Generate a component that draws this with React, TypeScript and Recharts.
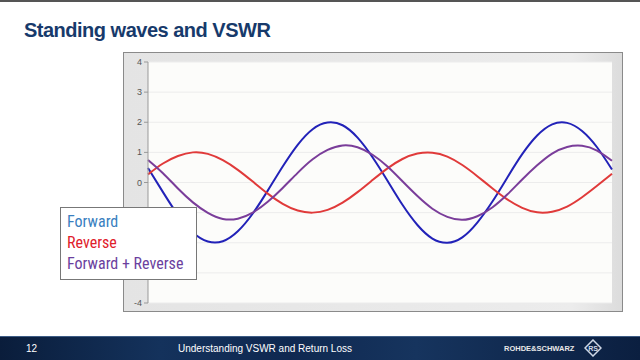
import React from "react";
import { LineChart, Line, XAxis, YAxis, CartesianGrid } from "recharts";

const positions = [0,1,2,3,4,5,6,7,8,9,10,11,12,13,14,15,16,17,18,19,20,21,22,23,24,25,26,27,28,29,30,31];
const forward = [0.48,-0.32,-1.08,-1.66,-1.96,-1.95,-1.62,-1.03,-0.27,0.53,1.25,1.77,1.99,1.90,1.49,0.84,0.06,-0.74,-1.41,-1.86,-2.0,-1.82,-1.33,-0.64,0.16,0.94,1.56,1.93,1.98,1.71,1.17,0.43];
const reverse = [0.27,0.63,0.88,1.0,0.95,0.74,0.42,0.03,-0.37,-0.71,-0.93,-1.0,-0.91,-0.67,-0.32,0.08,0.47,0.78,0.96,0.99,0.86,0.58,0.21,-0.19,-0.56,-0.84,-0.99,-0.97,-0.8,-0.49,-0.11,0.29];
const combined = [0.75,0.31,-0.2,-0.66,-1.01,-1.21,-1.2,-1.0,-0.64,-0.18,0.32,0.77,1.08,1.23,1.17,0.92,0.53,0.04,-0.45,-0.87,-1.14,-1.24,-1.12,-0.83,-0.4,0.1,0.57,0.96,1.18,1.22,1.06,0.72];
const yTicks = [-4,-3,-2,-1,0,1,2,3,4];
const hiddenTickLabels = [-1,-2,-3];

const series = [
  { key: "forward", label: "Forward", line: "#2222b8", text: "#3a7fbf" },
  { key: "reverse", label: "Reverse", line: "#e03a3a", text: "#e0202a" },
  { key: "combined", label: "Forward + Reverse", line: "#7a3d9a", text: "#6b3f9e" },
];

const data = positions.map((p, i) => ({
  x: p,
  forward: forward[i],
  reverse: reverse[i],
  combined: combined[i],
}));

const YTick = (props: any) => {
  const { x, y, payload } = props;
  if (hiddenTickLabels.includes(payload.value)) return null;
  return (
    <text x={x} y={y} dy={3} textAnchor="end" fontSize={9} fill="#555" fontFamily="Liberation Sans, Arial, sans-serif">
      {payload.value}
    </text>
  );
};

export default function App() {
  return (
    <div style={{ position: "fixed", left: 0, top: 0, width: 640, height: 360, background: "#ffffff", overflow: "hidden", fontFamily: "Liberation Sans, Arial, sans-serif" }}>
      <div style={{ position: "absolute", left: 0, top: 0, width: 640, height: 2, background: "#555" }} />
      <div style={{ position: "absolute", left: 24, top: 19, fontSize: 20, fontWeight: "bold", color: "#173a6b", letterSpacing: -0.5 }}>
        Standing waves and VSWR
      </div>
      <div style={{ position: "absolute", left: 123, top: 52, width: 498, height: 258, border: "1px solid #8a8a8a", background: "linear-gradient(90deg,#e4e4e4,#ececec 90%,#dcdcdc)" }}>
        <LineChart width={498} height={258} data={data} margin={{ top: 9, right: 10, bottom: 8, left: 0 }}>
          <CartesianGrid vertical={false} stroke="#ececec" fill="#fcfcfa" />
          <XAxis dataKey="x" hide type="number" domain={[0, 31]} />
          <YAxis
            domain={[-4, 4]}
            ticks={yTicks}
            width={24}
            tickSize={4}
            tickMargin={2}
            axisLine={{ stroke: "#999" }}
            tickLine={{ stroke: "#999" }}
            tick={<YTick />}
            interval={0}
          />
          {series.map((s) => (
            <Line key={s.key} dataKey={s.key} type="natural" stroke={s.line} strokeWidth={2} dot={false} isAnimationActive={false} />
          ))}
        </LineChart>
      </div>
      <div style={{ position: "absolute", left: 60, top: 207, width: 137, height: 73, background: "#fff", border: "1px solid #777", boxSizing: "border-box", padding: "3px 0 0 6px", fontFamily: "Liberation Sans Narrow, Arial Narrow, Roboto Condensed, sans-serif", fontSize: 16, lineHeight: "21px" }}>
        {series.map((s) => (
          <div key={s.key} style={{ color: s.text, whiteSpace: "nowrap" }}>{s.label}</div>
        ))}
      </div>
      <div style={{ position: "absolute", left: 0, top: 336, width: 640, height: 24, background: "linear-gradient(90deg,#0a1d3b 0%,#14325c 25%,#0f2850 45%,#16345e 65%,#0b1f40 100%)", borderTop: "1px solid #3d5c85" }}>
        <div style={{ position: "absolute", left: 26, top: 6, fontSize: 10, color: "#fff" }}>12</div>
        <div style={{ position: "absolute", left: 178, top: 6, fontSize: 10, color: "#fff" }}>Understanding VSWR and Return Loss</div>
        <div style={{ position: "absolute", left: 504, top: 7, fontSize: 7.5, fontWeight: "bold", color: "#e8e8e8" }}>ROHDE&amp;SCHWARZ</div>
        <svg style={{ position: "absolute", left: 584, top: 2 }} width="18" height="18" viewBox="0 0 18 18">
          <polygon points="9,1 17,9 9,17 1,9" fill="none" stroke="#cfd8e6" strokeWidth="1.5" />
          <text x="9" y="12" fontSize="7" fill="#cfd8e6" textAnchor="middle" fontWeight="bold">RS</text>
        </svg>
      </div>
    </div>
  );
}
